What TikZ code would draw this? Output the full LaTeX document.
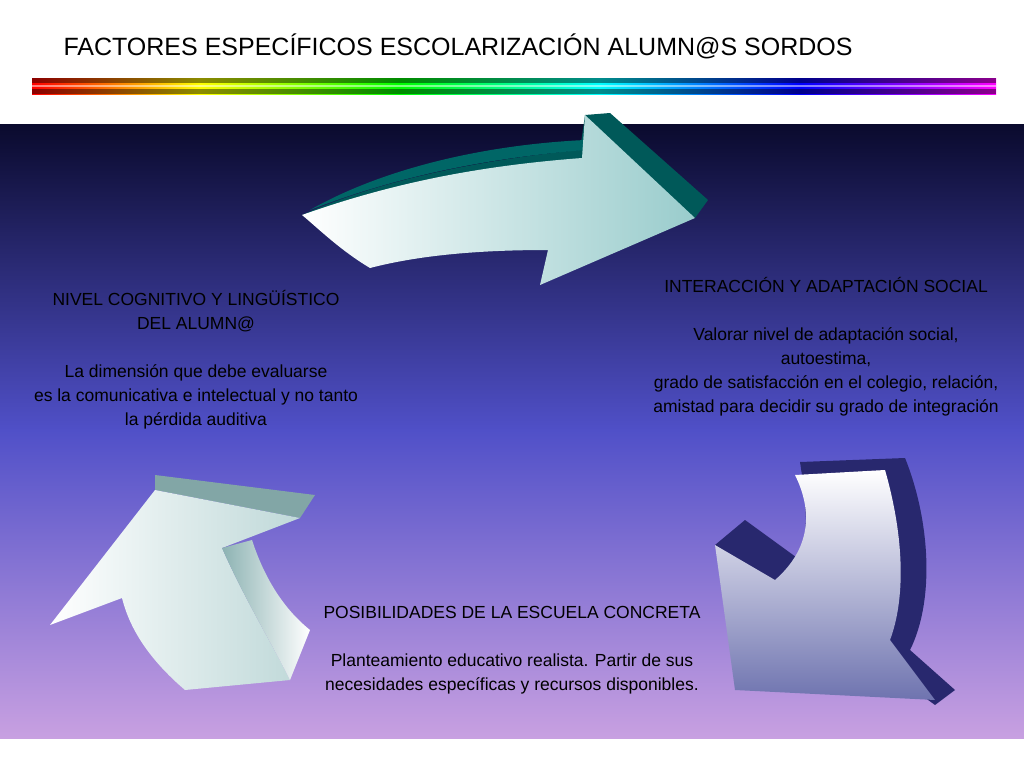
\documentclass[tikz,border=0pt]{standalone}
\usepackage{fontspec}
\setmainfont{Liberation Sans}
\definecolor{navyside}{RGB}{40,40,110}
\definecolor{arrowlow}{RGB}{110,115,175}
\begin{document}
\begin{tikzpicture}[x=1pt,y=-1pt,
  txt/.style={align=center,font=\fontsize{17.5}{24}\selectfont,text=black}]
\useasboundingbox (0,0) rectangle (1024,768);
\fill[white] (0,0) rectangle (1024,768);
% background
\shade[top color={rgb,255:red,10;green,10;blue,45}, bottom color={rgb,255:red,80;green,80;blue,200}] (0,124) rectangle (1024,431);
\shade[top color={rgb,255:red,80;green,80;blue,200}, bottom color={rgb,255:red,200;green,160;blue,225}] (0,430) rectangle (1024,738);
% rainbow bar
\shade[left color=red, right color=yellow] (32,78) rectangle (200,94);
\shade[left color=yellow, right color=green] (200,78) rectangle (400,94);
\shade[left color=green, right color=cyan] (400,78) rectangle (600,94);
\shade[left color=cyan, right color=blue] (600,78) rectangle (800,94);
\shade[left color=blue, right color=magenta] (800,78) rectangle (996,94);
\fill[black, opacity=0.45] (32,78) rectangle (996,83);
\fill[black, opacity=0.45] (32,89) rectangle (996,94);
\fill[white,opacity=0.5] (32,85) rectangle (996,87);
\node[anchor=west,font=\fontsize{25}{28}\selectfont] (title) at (60,46) {FACTORES ESPECÍFICOS ESCOLARIZACIÓN ALUMN@S SORDOS};
% top arrow
\fill[teal!70!black] (302,215) .. controls (380,180) and (480,160) .. (580,150) -- (585,115) -- (610,113) -- (708,200) -- (695,218) -- (585,160) .. controls (480,168) and (380,190) .. (302,215);
\fill[teal!80!black] (310,210) .. controls (400,175) and (490,158) .. (585,150) -- (585,140) .. controls (480,145) and (380,170) .. (310,210) -- cycle;
\shade[left color=white, right color=teal!40] (302,215) .. controls (400,180) and (490,165) .. (582,158) -- (585,115) -- (695,218) -- (540,285) -- (548,250) .. controls (480,250) and (420,255) .. (370,268) .. controls (340,250) and (320,230) .. (302,215) -- cycle;
% right arrow
\fill[navyside] (800,462) -- (905,458) .. controls (930,520) and (935,600) .. (910,650) -- (955,690) -- (935,705) -- (715,545) -- (745,520) -- (800,560) .. controls (810,530) and (805,495) .. (800,462) -- cycle;
\shade[top color=white, bottom color=arrowlow] (795,475) -- (885,470) .. controls (905,540) and (905,600) .. (890,640) -- (935,700) -- (735,690) -- (715,545) -- (775,580) .. controls (815,545) and (810,505) .. (795,475) -- cycle;
% left arrow
\fill[gray!60!teal!70] (155,475) -- (315,495) -- (300,518) -- (155,490) -- cycle;
\shade[left color=white, right color=cyan!25!gray!40] (155,490) -- (300,518) -- (222,548) .. controls (245,600) and (270,640) .. (290,680) -- (185,690) .. controls (150,660) and (130,630) .. (122,598) -- (50,625) -- cycle;
\shade[left color=gray!50!teal!60, right color=white] (222,548) -- (252,540) .. controls (265,580) and (285,610) .. (310,630) -- (290,680) .. controls (270,640) and (245,600) .. (222,548) -- cycle;
% texts
\node[txt] (a) at (196,360) {NIVEL COGNITIVO Y LINGÜÍSTICO\\DEL ALUMN@\\[24pt]La dimensión que debe evaluarse\\es la comunicativa e intelectual y no tanto\\la pérdida auditiva};
\node[txt] (b) at (826,347) {INTERACCIÓN Y ADAPTACIÓN SOCIAL\\[24pt]Valorar nivel de adaptación social,\\autoestima,\\grado de satisfacción en el colegio, relación,\\amistad para decidir su grado de integración};
\node[txt] (c) at (512,650) {POSIBILIDADES DE LA ESCUELA CONCRETA\\[24pt]Planteamiento educativo realista. Partir de sus\\necesidades específicas y recursos disponibles.};
\end{tikzpicture}
\end{document}
